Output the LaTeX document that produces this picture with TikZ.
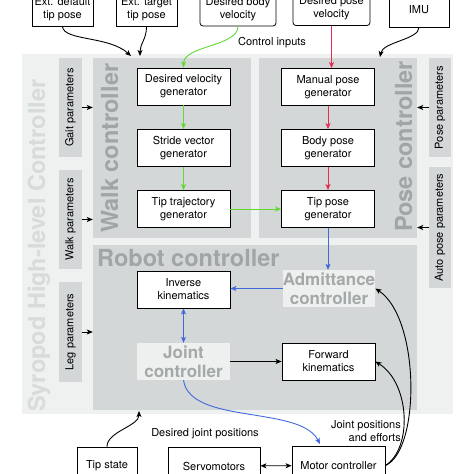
\documentclass[tikz,border=0pt]{standalone}
\usepackage{fontspec}
\setmainfont{TeX Gyre Heros}
\usetikzlibrary{positioning,arrows.meta}

\definecolor{syrobg}{RGB}{239,240,240}
\definecolor{ctrlbg}{RGB}{211,215,215}
\definecolor{ctrltext}{RGB}{160,165,165}
\definecolor{syrotext}{RGB}{216,219,219}
\definecolor{lightbox}{RGB}{238,239,239}
\definecolor{softtext}{RGB}{163,168,168}
\definecolor{walkgreen}{RGB}{100,215,50}
\definecolor{posered}{RGB}{228,45,80}
\definecolor{robotblue}{RGB}{65,105,220}

\begin{document}
\begin{tikzpicture}[x=1pt,y=-1pt,
    box/.style={draw,fill=white,line width=0.8pt,align=center,inner sep=0pt,
        minimum width=93pt,minimum height=37pt,font=\fontsize{11}{13}\selectfont},
    inbox/.style={box,minimum width=61pt,minimum height=34pt},
    softbox/.style={fill=lightbox,align=center,inner sep=0pt,minimum width=93pt,
        minimum height=37pt,text=softtext,font=\fontsize{17}{19}\selectfont\bfseries},
    region/.style={fill=ctrlbg,inner sep=0pt},
    strip/.style={fill=ctrlbg,inner sep=0pt,minimum width=23pt},
    striplabel/.style={rotate=90,inner sep=0pt,font=\fontsize{11}{13}\selectfont},
    biglabel/.style={text=ctrltext,inner sep=0pt,font=\fontsize{23.5}{26}\selectfont\bfseries},
    plain/.style={inner sep=0pt,font=\fontsize{11}{13}\selectfont},
    link/.style={line width=0.9pt,-{Stealth[length=6pt,width=5pt,inset=1.5pt]}},
    twolink/.style={line width=0.9pt,{Stealth[length=6pt,width=5pt,inset=1.5pt]}-{Stealth[length=6pt,width=5pt,inset=1.5pt]}}
]
\clip (0,0) rectangle (474,474);
\useasboundingbox (0,0) rectangle (474,474);

% background areas
\node[fill=syrobg,inner sep=0pt,minimum width=431pt,minimum height=360pt] (syro) at (237.5,234) {};
\node[region,minimum width=158pt,minimum height=180pt] (walkc) at (172,148) {};
\node[region,minimum width=158pt,minimum height=180pt] (posec) at (338,148) {};
\node[region,minimum width=324pt,minimum height=165pt] (robotc) at (255,327.5) {};

\node[strip,minimum height=99pt] (gait) at (70.5,107.5) {};
\node[strip,minimum height=99pt] (walkp) at (70.5,219.5) {};
\node[strip,minimum height=100pt] (legp) at (70.5,332) {};
\node[strip,minimum width=22pt,minimum height=99pt] (posep) at (440,107.5) {};
\node[strip,minimum width=22pt,minimum height=121pt] (autop) at (440,227.5) {};

\node[striplabel] (gaittxt) at (gait) {Gait parameters};
\node[striplabel] (walkptxt) at (walkp) {Walk parameters};
\node[striplabel] (legptxt) at (legp) {Leg parameters};
\node[striplabel] (poseptxt) at (posep) {Pose parameters};
\node[striplabel] (autoptxt) at (autop) {Auto pose parameters};

\node[biglabel,text=syrotext,rotate=90,anchor=base west] (syrotxt) at (45,412) {Syropod High-level Controller};
\node[biglabel,rotate=90,anchor=base west] (walktxt) at (118,233) {Walk controller};
\node[biglabel,rotate=90,anchor=base west] (posetxt) at (412,232) {Pose controller};
\node[biglabel,anchor=base west] (robottxt) at (97,266) {Robot controller};

% inputs
\node[inbox] (extdef) at (62.5,9.5) {Ext. default\\tip pose};
\node[inbox] (exttgt) at (146.5,9.5) {Ext. target\\tip pose};
\node[inbox,rounded corners=3pt,minimum width=76pt] (bodyvel) at (238,9) {Desired body\\velocity};
\node[inbox,rounded corners=3pt,minimum width=77pt] (posevel) at (331.5,8.5) {Desired pose\\velocity};
\node[inbox,minimum width=60pt] (imu) at (419,10) {IMU};
\node[plain] (ctrlin) at (272,43) {Control inputs};

% walk and pose
\node[box] (dvg) at (183.5,86.5) {Desired velocity\\generator};
\node[box] (svg) at (183.5,148) {Stride vector\\generator};
\node[box] (ttg) at (183.5,209) {Tip trajectory\\generator};
\node[box] (mpg) at (328,87) {Manual pose\\generator};
\node[box] (bpg) at (328,148) {Body pose\\generator};
\node[box] (tpg) at (328,209) {Tip pose\\generator};

% robot
\node[box] (ik) at (183.5,289.5) {Inverse\\kinematics};
\node[softbox] (jc) at (183.5,361.5) {Joint\\controller};
\node[softbox,minimum width=92pt] (adm) at (329,288.5) {Admittance\\controller};
\node[box] (fk) at (328.5,361.5) {Forward\\kinematics};

% hardware
\node[box,minimum width=60pt,minimum height=38pt] (tip) at (107,466) {Tip state};
\node[box,minimum width=92pt,minimum height=38pt] (servo) at (214,466) {Servomotors};
\node[box,minimum height=39pt] (motor) at (338.5,465.5) {Motor controller};
\node[plain] (djp) at (205,434) {Desired joint positions};
\node[plain,align=right,anchor=east] (jpe) at (401,431) {Joint positions\\and efforts};

\coordinate (ci1) at (131,56);
\coordinate (ci2) at (140,56);
\coordinate (ci3) at (380,57);
\coordinate (tipin) at (139,411);
\coordinate (motin) at (320,444);

% connectors
\draw[link] (extdef.south) .. controls +(2,14) and +(-22,-20) .. (ci1);
\draw[link] (exttgt.south) .. controls +(0,12) and +(0,-12) .. (ci2);
\draw[link] (imu.south) .. controls +(0,12) and +(3,-15) .. (ci3);
\draw[link,walkgreen] (bodyvel.south) .. controls +(0,20) and +(0,-22) .. (dvg.north);
\draw[link,walkgreen] (dvg) -- (svg);
\draw[link,walkgreen] (svg) -- (ttg);
\draw[link,walkgreen] (ttg) -- (tpg);
\draw[link,posered] (posevel.south) -- (posevel.south |- mpg.north);
\draw[link,posered] (mpg) -- (bpg);
\draw[link,posered] (bpg) -- (tpg);
\draw[link,robotblue] (tpg.south) -- (tpg.south |- adm.north);
\draw[link,robotblue] (adm.west) -- (adm.west -| ik.east);
\draw[twolink,robotblue] (ik) -- (jc);
\draw[link,robotblue] (jc.south) .. controls (190,425) and (300,405) .. (motin);
\draw[link] (jc) -- (fk);
\draw[twolink] (servo) -- (motor);
\draw[link] (motor.east) .. controls +(35,-15) and +(45,30) .. (adm.east);
\draw[link] (motor.east) .. controls +(27,-17) and +(35,22) .. (fk.east);
\draw[link] (tip.north) .. controls +(0,-15) and +(0,15) .. (tipin);

\draw[link] (gait.east) -- (gait.east -| walkc.west);
\draw[link] (walkp.east) -- (walkp.east -| walkc.west);
\draw[link] (legp.east) -- (legp.east -| robotc.west);
\draw[link] (posep.west) -- (posep.west -| posec.east);
\draw[link] (autop.west) -- (autop.west -| posec.east);
\end{tikzpicture}
\end{document}
